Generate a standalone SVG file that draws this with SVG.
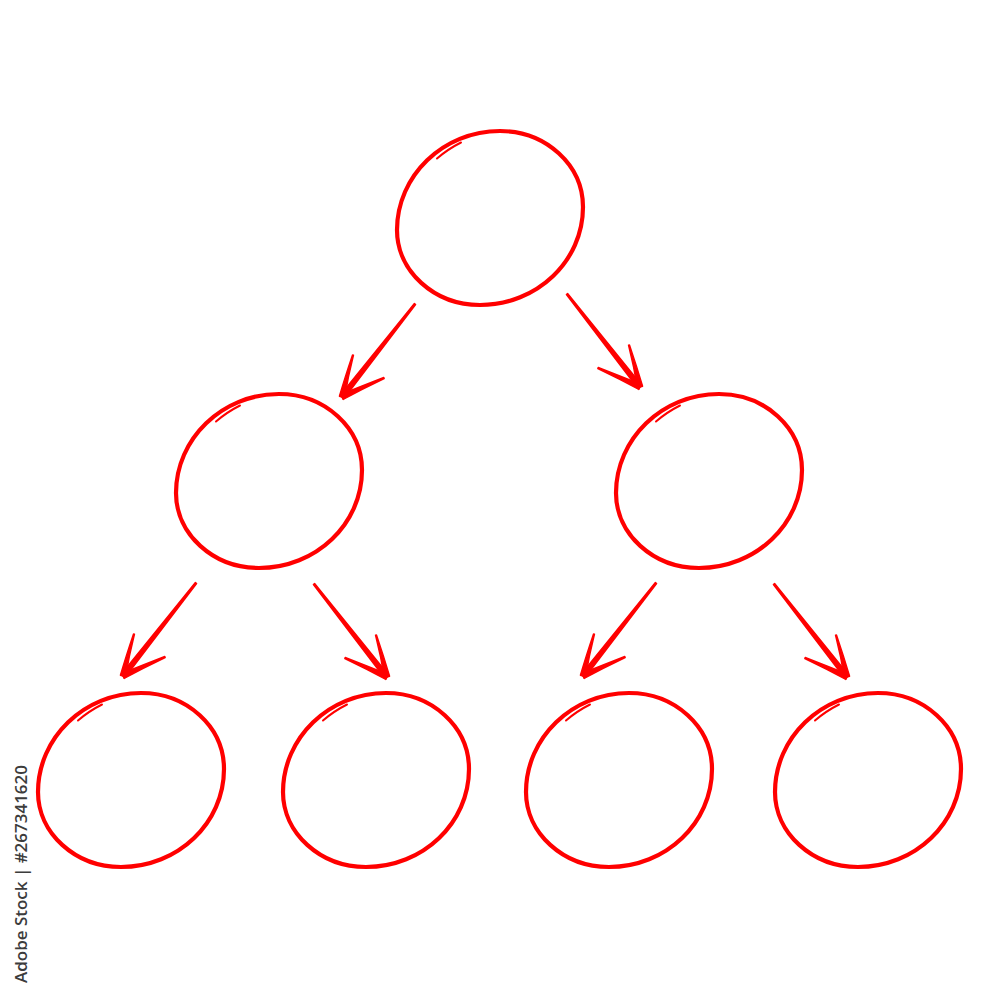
<svg xmlns="http://www.w3.org/2000/svg" xmlns:xlink="http://www.w3.org/1999/xlink" width="1000" height="1000" viewBox="0 0 1000 1000">
<style>
.ring{fill:none;stroke:#ff0000;stroke-width:4.2;stroke-linecap:round}
.flick{fill:none;stroke:#ff0000;stroke-width:2;stroke-linecap:round}
.arr{fill:#ff0000;stroke:#ff0000;stroke-width:1.4;stroke-linejoin:round}
.credit{font-family:"Open Sans","Liberation Sans",sans-serif;font-weight:600;font-size:16px;fill:#3c3c3c}
</style>
<defs>
<g id="circ">
<path class="ring" d="M 10,-87 C 56,-87 93,-53 93,-11 C 93,43 47,87 -10,87 C -56,87 -93,53 -93,12 C -93,-42 -47,-87 10,-87 Z"/>
<path class="flick" d="M -53,-59.5 Q -42,-69 -29,-75.5"/>
</g>
<g id="arrowL">
<path class="arr" d="M 73.6,-92.5 L 2,1.5 L -2,-1.5 L 72.4,-93.5 Z"/>
<path class="arr" d="M 2.6,0.7 Q 6,-20 11.5,-41.9 L 10.5,-42.1 Q 3,-20 -2.6,-0.7 Z"/>
<path class="arr" d="M 1.1,2.5 Q 20,-8 42.2,-18.5 L 41.8,-19.5 Q 20,-11 -1.1,-2.5 Z"/>
</g>
</defs>
<rect width="1000" height="1000" fill="#ffffff"/>
<g id="node-root"><use xlink:href="#circ" href="#circ" transform="translate(490,218)"/></g>
<g id="node-left"><use xlink:href="#circ" href="#circ" transform="translate(269,481)"/></g>
<g id="node-right"><use xlink:href="#circ" href="#circ" transform="translate(709,481)"/></g>
<g id="node-ll"><use xlink:href="#circ" href="#circ" transform="translate(131,780)"/></g>
<g id="node-lr"><use xlink:href="#circ" href="#circ" transform="translate(376,780)"/></g>
<g id="node-rl"><use xlink:href="#circ" href="#circ" transform="translate(619,780)"/></g>
<g id="node-rr"><use xlink:href="#circ" href="#circ" transform="translate(868,780)"/></g>
<g id="connectors">
<use xlink:href="#arrowL" href="#arrowL" transform="translate(342,397)"/>
<use xlink:href="#arrowL" href="#arrowL" transform="translate(640,387) scale(-1,1)"/>
<use xlink:href="#arrowL" href="#arrowL" transform="translate(123,676)"/>
<use xlink:href="#arrowL" href="#arrowL" transform="translate(387,677) scale(-1,1)"/>
<use xlink:href="#arrowL" href="#arrowL" transform="translate(583,676)"/>
<use xlink:href="#arrowL" href="#arrowL" transform="translate(847,677) scale(-1,1)"/>
</g>
<text class="credit" transform="translate(27,983) rotate(-90)" textLength="218" lengthAdjust="spacingAndGlyphs">Adobe Stock | #267341620</text>
</svg>
